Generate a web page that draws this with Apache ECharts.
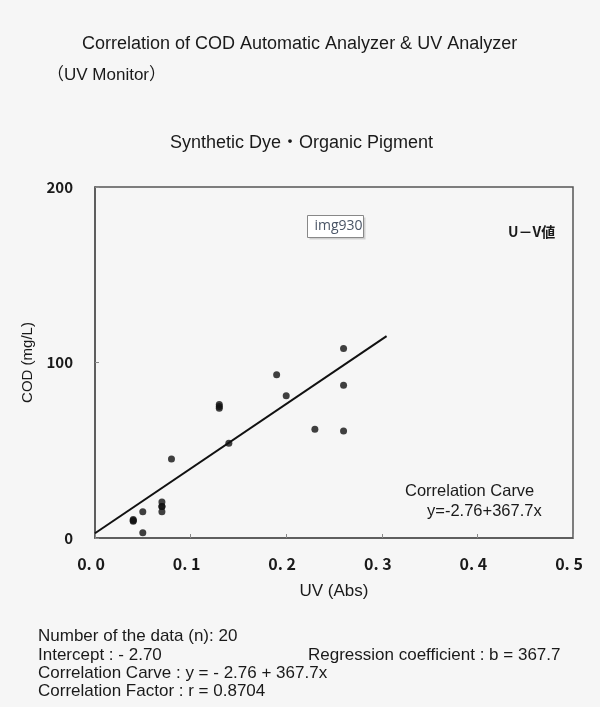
<!DOCTYPE html>
<html>
<head>
<meta charset="utf-8">
<script src="https://cdn.jsdelivr.net/npm/echarts@6/dist/echarts.min.js"></script>
<style>
  html, body { margin: 0; padding: 0; background: #f6f6f6; }
  #chart { width: 600px; height: 707px; }
</style>
</head>
<body>
<div id="chart"></div>
<script>
const uvAbs = [0.26, 0.19, 0.26, 0.20, 0.13, 0.13, 0.23, 0.26, 0.14, 0.08,
  0.07, 0.07, 0.07, 0.05, 0.05, 0.04, 0.04, 0.04, 0.07, 0.13]
const codMgL = [108, 93, 87, 81, 76, 74, 62, 61, 54, 45,
  20.5, 18, 15, 15, 3, 10.5, 9.5, 10, 18, 75]
// regression line end points as drawn
const lineX = [0, 0.305]
const lineY = [2.7, 115]
const xTicks = ['0. 0', '0. 1', '0. 2', '0. 3', '0. 4', '0. 5']

const chart = echarts.init(document.getElementById('chart'))

const txt = (x, y, text, size, extra) => ({
  type: 'text',
  left: x,
  top: y,
  style: Object.assign({
    text: text,
    fill: '#1a1a1a',
    font: size + 'px "Liberation Sans", Arial, sans-serif'
  }, extra || {})
})

chart.setOption({
  backgroundColor: '#f6f6f6',
  animation: false,
  grid: {
    left: 95,
    right: 27,
    top: 187,
    bottom: 169,
    show: true,
    borderColor: '#555',
    borderWidth: 1.5,
    backgroundColor: 'transparent'
  },
  xAxis: {
    type: 'value',
    min: 0,
    max: 0.5,
    interval: 0.1,
    name: 'UV (Abs)',
    nameLocation: 'middle',
    nameGap: 45,
    nameTextStyle: { fontSize: 17, color: '#1a1a1a', fontFamily: 'Liberation Sans' },
    axisLine: { show: true, lineStyle: { color: '#555', width: 1.5 } },
    axisTick: { show: true, inside: true, length: 4, lineStyle: { color: '#888' } },
    splitLine: { show: false },
    axisLabel: {
      margin: 18,
      fontSize: 16,
      fontWeight: 'bold',
      color: '#1a1a1a',
      fontFamily: '"Noto Sans CJK JP"',
      padding: [0, 8, 0, 0],
      formatter: (v) => xTicks[Math.round(v * 10)]
    }
  },
  yAxis: {
    type: 'value',
    min: 0,
    max: 200,
    interval: 100,
    name: 'COD (mg/L)',
    nameLocation: 'middle',
    nameGap: 58,
    nameTextStyle: { fontSize: 15, color: '#1a1a1a', fontFamily: 'Liberation Sans' },
    axisLine: { show: true, lineStyle: { color: '#555', width: 1.5 } },
    axisTick: { show: true, inside: true, length: 4, lineStyle: { color: '#888' } },
    splitLine: { show: false },
    axisLabel: {
      margin: 22,
      fontSize: 15,
      fontWeight: 'bold',
      color: '#1a1a1a',
      fontFamily: '"Noto Sans CJK JP"'
    }
  },
  series: [
    {
      type: 'scatter',
      symbolSize: 7,
      itemStyle: { color: '#111' },
      data: uvAbs.map((x, i) => [x, codMgL[i]])
    },
    {
      type: 'line',
      showSymbol: false,
      lineStyle: { color: '#111', width: 2 },
      data: lineX.map((x, i) => [x, lineY[i]])
    }
  ],
  graphic: [
    txt(82, 35, 'Correlation of COD Automatic Analyzer & UV Analyzer', 18),
    txt(47, 67, '（UV Monitor）', 17, { font: '17px "Liberation Sans", "Noto Sans CJK JP", sans-serif' }),
    txt(170, 134, 'Synthetic Dye・Organic Pigment', 18, { font: '18px "Liberation Sans", "Noto Sans CJK JP", sans-serif' }),
    txt(508, 225, 'U－V値', 14, { font: 'bold 14px "Noto Sans CJK JP", sans-serif' }),
    {
      type: 'group',
      left: 307,
      top: 215,
      children: [
        { type: 'rect', shape: { x: 2, y: 2, width: 56, height: 22 }, style: { fill: '#cfcfcf' } },
        { type: 'rect', shape: { x: 0, y: 0, width: 56, height: 22 }, style: { fill: '#fff', stroke: '#888', lineWidth: 1 } },
        { type: 'text', x: 7, y: 4, style: { text: 'img930', fill: '#4a5566', font: '14px "Open Sans", sans-serif' } }
      ]
    },
    txt(405, 483, 'Correlation Carve', 16.5),
    txt(427, 503, 'y=-2.76+367.7x', 16.5),
    txt(38, 628, 'Number of the data (n): 20', 17),
    txt(38, 647, 'Intercept : - 2.70', 17),
    txt(308, 647, 'Regression coefficient : b = 367.7', 17),
    txt(38, 665, 'Correlation Carve : y = - 2.76 + 367.7x', 17),
    txt(38, 683, 'Correlation Factor : r = 0.8704', 17)
  ]
})
</script>
</body>
</html>
